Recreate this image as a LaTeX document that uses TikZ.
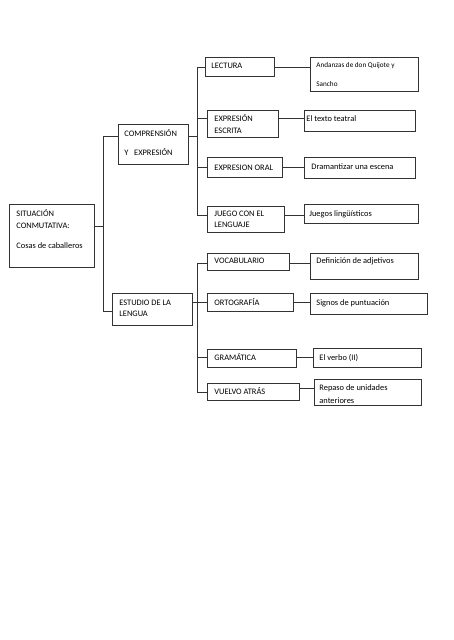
\documentclass[tikz,border=0pt]{standalone}
\usepackage{fontspec}
\setmainfont{Carlito}
\usepackage{tikz}

\begin{document}
\begin{tikzpicture}[
            x = 1pt, y = -1pt, % page pixels, y going down
            line width = 0.8pt
        ]

        \tikzset{
            caja/.style = {
                draw = black!80,
                anchor = north west,
                inner sep = 0pt,
                outer sep = 0pt
            },
            txt/.style = {
                anchor = base west, % base of the last line
                inner sep = 0pt,
                align = left,
                font = \fontsize{8.4}{12}\selectfont
            },
            chico/.style = {
                txt,
                font = \fontsize{7.2}{9}\selectfont
            },
            linea/.style = {draw = black!80}
        }

        \useasboundingbox (0,0) rectangle (453,640);

        % first level
        \node[caja, minimum width=85, minimum height=63] (sit) at (9,204) {};
        \node[txt] (sit-t) at (16,248) {SITUACIÓN\\CONMUTATIVA:\\[7.5pt]Cosas de caballeros};

        % second level
        \node[caja, minimum width=70, minimum height=40] (comp) at (118,124) {};
        \node[txt] (comp-t) at (124,155) {COMPRENSIÓN\\[7pt]Y\ \ \ EXPRESIÓN};
        \node[caja, minimum width=80, minimum height=32] (est) at (112,293) {};
        \node[txt] (est-t) at (119,316) {ESTUDIO DE LA\\[-1pt]LENGUA};

        % third level, upper
        \node[caja, minimum width=69, minimum height=19] (lect) at (205,57) {};
        \node[txt] (lect-t) at (211,68) {LECTURA};
        \node[caja, minimum width=71, minimum height=27] (esc) at (207,110) {};
        \node[txt] (esc-t) at (214,133) {EXPRESIÓN\\ESCRITA};
        \node[caja, minimum width=75, minimum height=20] (oral) at (207,157) {};
        \node[txt] (oral-t) at (214,170) {EXPRESION ORAL};
        \node[caja, minimum width=77, minimum height=26] (jue) at (207,206) {};
        \node[txt] (jue-t) at (214,227) {JUEGO CON EL\\[-1pt]LENGUAJE};

        % third level, lower
        \node[caja, minimum width=82, minimum height=17] (voc) at (207,253) {};
        \node[txt] (voc-t) at (214,263) {VOCABULARIO};
        \node[caja, minimum width=86, minimum height=18] (ort) at (207,293) {};
        \node[txt] (ort-t) at (214,305) {ORTOGRAFÍA};
        \node[caja, minimum width=89, minimum height=18] (gra) at (207,349) {};
        \node[txt] (gra-t) at (214,360) {GRAMÁTICA};
        \node[caja, minimum width=92, minimum height=17] (vue) at (207,383) {};
        \node[txt] (vue-t) at (214,394) {VUELVO ATRÁS};

        % contents, upper
        \node[caja, minimum width=108, minimum height=34] (and) at (310,57) {};
        \node[chico] (and-t) at (316,86) {Andanzas de don Quijote y\\[9.5pt]Sancho};
        \node[caja, minimum width=111, minimum height=21] (tea) at (304,110) {};
        \node[txt] (tea-t) at (306,121) {El texto teatral};
        \node[caja, minimum width=111, minimum height=21] (dra) at (304,157) {};
        \node[txt] (dra-t) at (311,169.5) {Dramantizar una escena};
        \node[caja, minimum width=114, minimum height=19] (lin) at (304,204) {};
        \node[txt] (lin-t) at (309,216) {Juegos lingüísticos};

        % contents, lower
        \node[caja, minimum width=108, minimum height=26] (def) at (310,253) {};
        \node[txt] (def-t) at (316,263) {Definición de adjetivos};
        \node[caja, minimum width=117, minimum height=21] (sig) at (310,293) {};
        \node[txt] (sig-t) at (316,305) {Signos de puntuación};
        \node[caja, minimum width=108, minimum height=19] (ver) at (313,348) {};
        \node[txt] (ver-t) at (319,360) {El verbo (II)};
        \node[caja, minimum width=107, minimum height=26] (rep) at (314,379) {};
        \node[txt] (rep-t) at (319,403) {Repaso de unidades\\[1pt]anteriores};

        % joints of the brackets
        \coordinate (a0) at (103,226);
        \coordinate (a1) at (103,136);
        \coordinate (a2) at (103,311);
        \coordinate (b0) at (197.5,136);
        \coordinate (b1) at (197.5,67);
        \coordinate (b2) at (197.5,118);
        \coordinate (b3) at (197.5,167);
        \coordinate (b4) at (197.5,215);
        \coordinate (c1) at (197.5,263);
        \coordinate (c2) at (197.5,302);
        \coordinate (c3) at (197.5,357);
        \coordinate (c4) at (197.5,392);
        \coordinate (c5) at (197.5,388);

        \path[linea] (a0 -| sit.east) -- (a0);
        \path[linea] (a1 -| comp.west) -- (a1) -- (a2) -- (a2 -| est.west);

        \path[linea] (b0 -| comp.east) -- (b0);
        \path[linea] (b1 -| lect.west) -- (b1) -- (b4) -- (b4 -| jue.west);
        \path[linea] (b2) -- (b2 -| esc.west);
        \path[linea] (b3) -- (b3 -| oral.west);

        \path[linea] (c2 -| est.east) -- (c2);
        \path[linea] (c1 -| voc.west) -- (c1) -- (c4) -- (c4 -| vue.west);
        \path[linea] (c2) -- (c2 -| ort.west);
        \path[linea] (c3) -- (c3 -| gra.west);

        \path[linea] (b1 -| lect.east) -- (b1 -| and.west);
        \path[linea] (b2 -| esc.east) -- (b2 -| tea.west);
        \path[linea] (b3 -| oral.east) -- (b3 -| dra.west);
        \path[linea] (b4 -| jue.east) -- (b4 -| lin.west);
        \path[linea] (c1 -| voc.east) -- (c1 -| def.west);
        \path[linea] (c2 -| ort.east) -- (c2 -| sig.west);
        \path[linea] (c3 -| gra.east) -- (c3 -| ver.west);
        \path[linea] (c5 -| vue.east) -- (c5 -| rep.west);

  \end{tikzpicture}
\end{document}
